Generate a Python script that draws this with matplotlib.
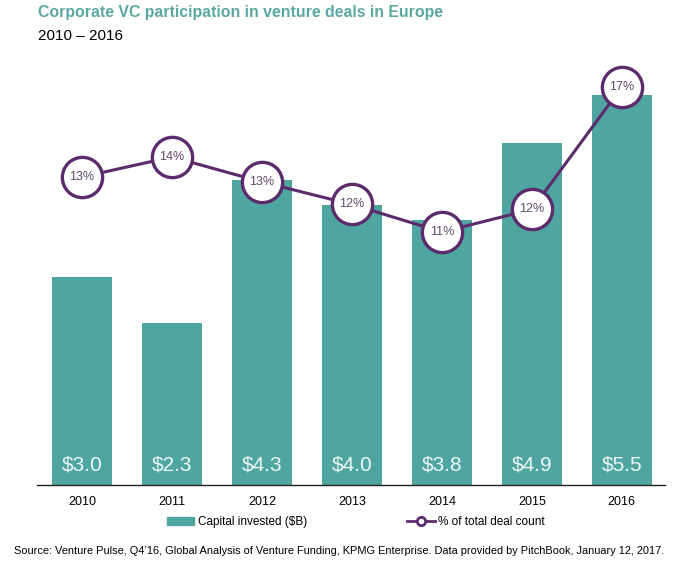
import numpy as np
import matplotlib.pyplot as plt
from matplotlib.patches import Patch
from matplotlib.lines import Line2D

years = ['2010', '2011', '2012', '2013', '2014', '2015', '2016']
capital = [2.93, 2.29, 4.3, 3.95, 3.74, 4.83, 5.5]
capital_labels = ['$3.0', '$2.3', '$4.3', '$4.0', '$3.8', '$4.9', '$5.5']
share = [13.2, 14.0, 13.0, 12.1, 11.0, 11.9, 16.8]
share_labels = ['13%', '14%', '13%', '12%', '11%', '12%', '17%']

teal = '#4fa59f'
purple = '#5b2b6c'
plt.rcParams['font.family'] = ['Liberation Sans', 'DejaVu Sans']

fig = plt.figure(figsize=(6.78, 5.71), dpi=100)
ax = fig.add_axes([0.0546, 0.1506, 0.9262, 0.7444])
x = np.arange(len(years))

ax.bar(x, capital, width=0.667, color=teal, zorder=2)
for xi, lab in zip(x, capital_labels):
    ax.text(xi, 0.28, lab, ha='center', va='center', color='#eef7f5', fontsize=15, zorder=3)

ax.set_xlim(-0.5, 6.48)
ax.set_ylim(0, 6.0)
ax.set_yticks([])
ax.set_xticks(x)
ax.set_xticklabels(years, fontsize=9)
ax.tick_params(axis='x', length=0, pad=8)
for s in ['top', 'right', 'left']:
    ax.spines[s].set_visible(False)
ax.spines['bottom'].set_color('#222222')
ax.spines['bottom'].set_linewidth(1.0)

ax2 = ax.twinx()
ax2.plot(x, share, color=purple, lw=2.2, marker='o', ms=29, mfc='white', mec=purple, mew=2.4, zorder=4)
for xi, yi, lab in zip(x, share, share_labels):
    ax2.text(xi, yi, lab, ha='center', va='center', color='#5e4a6a', fontsize=9, zorder=5)
ax2.set_ylim(0.88, 17.88)
ax2.set_yticks([])
for s in ['top', 'right', 'left', 'bottom']:
    ax2.spines[s].set_visible(False)

fig.text(0.056, 0.978, 'Corporate VC participation in venture deals in Europe', color='#5ba8a0',
         fontsize=11.4, fontweight='bold', ha='left', va='center')
fig.text(0.056, 0.937, '2010 \u2013 2016', color='black', fontsize=11, ha='left', va='center')

handles = [Patch(color=teal),
           Line2D([0], [0], color=purple, lw=2, marker='o', ms=6, mfc='white', mec=purple, mew=2)]
fig.legend(handles, ['Capital invested ($B)', '% of total deal count'], loc='center',
           bbox_to_anchor=(0.525, 0.085), ncol=2, frameon=False, fontsize=8.5,
           handlelength=2.3, handletextpad=0.3, columnspacing=8.5)

fig.text(0.5, 0.035, 'Source: Venture Pulse, Q4\u201916, Global Analysis of Venture Funding, KPMG Enterprise. '
         'Data provided by PitchBook, January 12, 2017.', fontsize=7.9, ha='center', va='center')

fig.savefig('out.png', dpi=100)
